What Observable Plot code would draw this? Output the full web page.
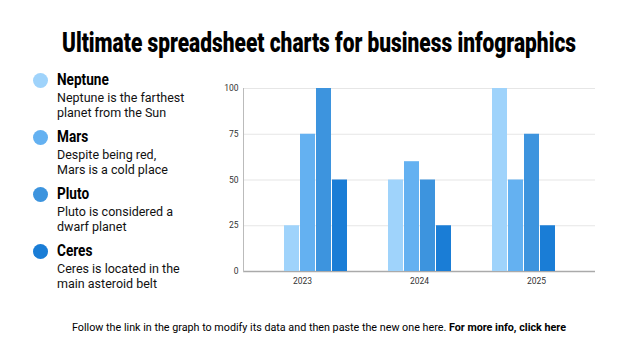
<!DOCTYPE html>
<html>
<head>
<meta charset="utf-8">
<script src="https://cdn.jsdelivr.net/npm/d3@7"></script>
<script src="https://cdn.jsdelivr.net/npm/@observablehq/plot@0.6"></script>
<style>
  html, body { margin: 0; padding: 0; background: #fff; }
  #page { position: relative; width: 638px; height: 359px; overflow: hidden; font-family: Roboto, sans-serif; color: #000; }
  .cond { font-family: Roboto, sans-serif; font-weight: 700; white-space: nowrap; }
  #title { position: absolute; left: 0; top: 27px; font-size: 27px; line-height: 32px; font-weight: 900; transform-origin: 0 0; }
  #legend { position: absolute; left: 33px; top: 69px; width: 180px; }
  .item { position: relative; height: 57px; }
  .dot { position: absolute; left: 0; top: 4px; width: 15px; height: 15px; border-radius: 50%; }
  .name { position: absolute; left: 24px; top: 0; font-size: 17px; line-height: 20px; transform: scaleX(0.8); transform-origin: 0 0; }
  .desc { position: absolute; left: 24px; top: 21px; font-size: 12.5px; line-height: 15px; color: #111; }
  #chart { position: absolute; left: 200px; top: 78px; width: 410px; height: 215px; }
  #chart svg { position: absolute; left: 0; top: 0; }
  #footer { position: absolute; left: 0; width: 638px; top: 321px; text-align: center; font-size: 10.75px; line-height: 14px; }
</style>
</head>
<body>
<div id="page">
  <div id="title" class="cond">Ultimate spreadsheet charts for business infographics</div>
  <div id="legend"></div>
  <div id="chart"></div>
  <div id="footer">Follow the link in the graph to modify its data and then paste the new one here. <b>For more info, click here</b></div>
</div>
<script>
const years = ["2023", "2024", "2025"];
const series = ["Neptune", "Mars", "Pluto", "Ceres"];
const colors = ["#9fd3fb", "#64b1f1", "#3d94de", "#1a7dd6"];
const descriptions = [
  ["Neptune is the farthest", "planet from the Sun"],
  ["Despite being red,", "Mars is a cold place"],
  ["Pluto is considered a", "dwarf planet"],
  ["Ceres is located in the", "main asteroid belt"]
];
const neptune = [25, 50, 100];
const mars = [75, 60, 50];
const pluto = [100, 50, 75];
const ceres = [50, 25, 25];
const yTicks = [0, 25, 50, 75, 100];

const valuesBySeries = [neptune, mars, pluto, ceres];
const data = [];
years.forEach((yr, i) => series.forEach((s, j) => data.push({year: yr, series: s, value: valuesBySeries[j][i]})));

// title: fit to the reference's condensed width
const title = document.getElementById("title");
const tw = title.getBoundingClientRect().width;
const targetW = 514;
title.style.transform = `scaleX(${targetW / tw})`;
title.style.left = ((638 - targetW) / 2) + "px";

// legend
const legend = document.getElementById("legend");
series.forEach((s, j) => {
  const it = document.createElement("div");
  it.className = "item";
  it.innerHTML = `<div class="dot" style="background:${colors[j]}"></div>
    <div class="name cond">${s}</div>
    <div class="desc">${descriptions[j].join("<br>")}</div>`;
  legend.appendChild(it);
});

const common = {
  width: 410,
  height: 215,
  marginLeft: 43,
  marginRight: 15,
  marginTop: 10,
  marginBottom: 22,
  style: {fontFamily: "Roboto, sans-serif", fontSize: "8.5px", color: "#333", background: "transparent", overflow: "visible"}
};
const padIn = 0.37, padOut = 0.366;

// background: grid, axes
const back = Plot.plot({
  ...common,
  x: {domain: years, paddingInner: padIn, paddingOuter: padOut, label: null, tickSize: 0, tickPadding: 6},
  y: {domain: [0, 100], ticks: yTicks, label: null, tickSize: 0, tickPadding: 5},
  marks: [
    Plot.ruleY(yTicks.filter(d => d > 0), {stroke: "#e6e6e6", strokeWidth: 1.2}),
    Plot.ruleY([0], {stroke: "#aaa", strokeWidth: 1.3}),
    Plot.frame({anchor: "left", stroke: "#bbb", strokeWidth: 1})
  ]
});

// foreground: grouped bars via fx facets
const front = Plot.plot({
  ...common,
  fx: {domain: years, paddingInner: padIn, paddingOuter: padOut, axis: null, label: null},
  x: {domain: series, paddingInner: 0.08, paddingOuter: 0, axis: null},
  y: {domain: [0, 100], axis: null},
  color: {domain: series, range: colors},
  marks: [
    Plot.barY(data, {fx: "year", x: "series", y: "value", fill: "series"})
  ]
});
const chartDiv = document.getElementById("chart");
chartDiv.appendChild(back);
chartDiv.appendChild(front);
</script>
</body>
</html>
